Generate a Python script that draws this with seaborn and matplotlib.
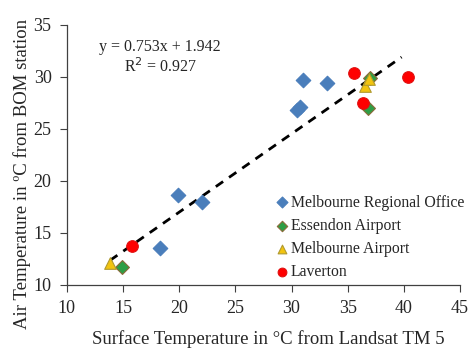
import matplotlib
matplotlib.use("Agg")
import matplotlib.pyplot as plt
import seaborn as sns
import numpy as np
import pandas as pd

sns.set_style("ticks")
plt.rcParams["font.family"] = ["Liberation Serif", "DejaVu Serif"]

# values
mro_x = [31.0, 33.2, 30.5, 30.8, 22.0, 19.9, 18.3]
mro_y = [29.7, 29.4, 26.8, 27.1, 18.0, 18.65, 13.6]
ess_x = [14.9, 36.8, 37.0]
ess_y = [11.7, 27.0, 29.9]
mel_x = [13.85, 36.5, 36.9]
mel_y = [12.15, 29.1, 29.8]
lav_x = [15.8, 35.6, 36.4, 40.4]
lav_y = [13.75, 30.35, 27.5, 30.0]

slope, intercept, r2 = 0.753, 1.942, 0.927

stations = ["Melbourne Regional Office", "Essendon Airport", "Melbourne Airport", "Laverton"]
styles = {
    "Melbourne Regional Office": dict(marker="D", color="#4A7EBB", edgecolor="#4A7EBB", s=55),
    "Essendon Airport": dict(marker="D", color="#2E9E45", edgecolor="#8C6A3A", s=50),
    "Melbourne Airport": dict(marker="^", color="#F2C40F", edgecolor="#B09A30", s=70),
    "Laverton": dict(marker="o", color="#FF0000", edgecolor="#E01010", s=70),
}

frames = []
for name, xs, ys in zip(stations, [mro_x, ess_x, mel_x, lav_x], [mro_y, ess_y, mel_y, lav_y]):
    frames.append(pd.DataFrame({"x": xs, "y": ys, "station": name}))
df = pd.concat(frames, ignore_index=True)

fig, ax = plt.subplots(figsize=(4.74, 3.57), dpi=100)
fig.subplots_adjust(left=0.141, right=0.9705, bottom=0.2017, top=0.930)

# trend line
xl = np.array([df["x"].min(), 39.8])
ax.plot(xl, slope * xl + intercept, color="black", linestyle=(0, (3.2, 2.6)), linewidth=2.0, zorder=3)

for name in stations:
    st = styles[name]
    sub = df[df["station"] == name]
    sns.scatterplot(data=sub, x="x", y="y", ax=ax, marker=st["marker"], color=st["color"],
                    edgecolor=st["edgecolor"], s=st["s"], linewidth=0.8, label=name, zorder=4)

ax.set_xlim(10, 45)
ax.set_ylim(10, 35)
ax.set_xticks(range(10, 46, 5))
ax.set_yticks(range(10, 36, 5))
ax.tick_params(labelsize=13, direction="out", length=5, width=0.8, color="#404040", pad=6)
for sp in ["left", "bottom"]:
    ax.spines[sp].set_color("#404040")
    ax.spines[sp].set_linewidth(0.9)
sns.despine(ax=ax)

ax.set_xlabel("Surface Temperature in °C from Landsat TM 5", fontsize=13.5, labelpad=9, x=0.513)
ax.set_ylabel("Air Temperature in ºC from BOM station", fontsize=13.5, labelpad=2, y=0.427)

ax.text(0.237, 0.915, "y = 0.753x + 1.942", transform=ax.transAxes, ha="center", va="center", fontsize=11.5)
ax.text(0.237, 0.838, "R$^2$ = " + f"{r2:.3f}", transform=ax.transAxes, ha="center", va="center", fontsize=11.5)

leg = ax.legend(loc="lower left", bbox_to_anchor=(0.515, -0.006), frameon=False,
                prop={"family": ["Liberation Serif", "DejaVu Serif"], "size": 11.3},
                handlelength=0.8, handletextpad=0.15, borderaxespad=0.0, labelspacing=0.46,
                markerscale=0.75)

fig.savefig("out.png", dpi=100)
